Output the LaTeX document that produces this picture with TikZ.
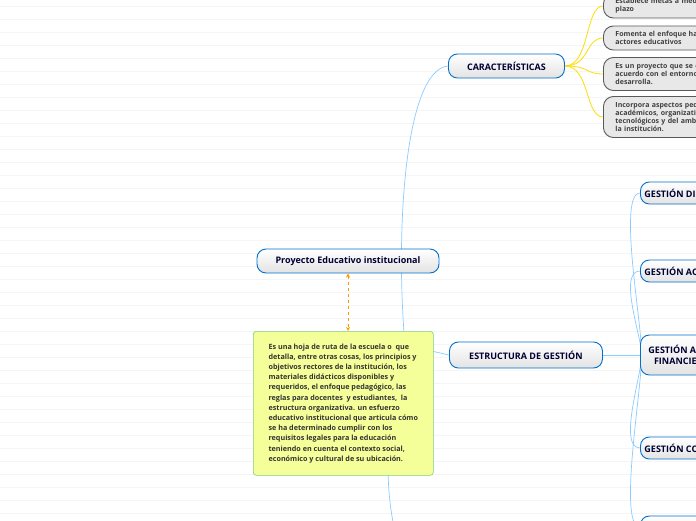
\documentclass[tikz,border=0pt]{standalone}
\usepackage{fontspec}
\setmainfont{Open Sans}
\usetikzlibrary{backgrounds}
\begin{document}
\begin{tikzpicture}[x=1pt,y=-1pt,
  topic/.style={draw=blue!45!cyan!80!black,line width=0.9pt,rounded corners=9pt,top color=white,bottom color=gray!22,font=\bfseries\fontsize{9}{11}\selectfont,text=blue!20!black,inner sep=4pt,anchor=west},
  sub/.style={draw=gray!70!black,line width=0.9pt,rounded corners=10pt,fill=gray!18,font=\bfseries\fontsize{7}{8}\selectfont,text=black!75,align=left,anchor=west,text width=130pt,inner sep=4pt,inner xsep=12pt},
  blink/.style={draw=blue!45!cyan!45,line width=0.7pt},
  ylink/.style={draw=yellow!80!orange,line width=0.8pt}]
\useasboundingbox (0,0) rectangle (696,520);
\clip (0,0) rectangle (696,520);
\coordinate (hub) at (405,345);
\coordinate (hub2) at (640,355);
\coordinate (bot) at (393,522);
% nodes
\node[topic,minimum width=182pt,minimum height=24pt,anchor=center] (pei) at (348,261) {Proyecto Educativo institucional};
\node[topic,minimum width=116pt,minimum height=24pt] (car) at (448,66) {CARACTERÍSTICAS};
\node[topic,minimum width=153pt,minimum height=26pt] (est) at (449,355) {ESTRUCTURA DE GESTIÓN};
\node[topic,minimum width=80pt,minimum height=22pt,align=left] (g1) at (640,193) {GESTIÓN DIRECTIVA};
\node[topic,minimum width=80pt,minimum height=22pt,align=left] (g2) at (640,271) {GESTIÓN ACADÉMICA};
\node[topic,minimum width=80pt,minimum height=40pt,align=center,inner xsep=8pt] (g3) at (640,355) {GESTIÓN ADMI\\FINANCIERA};
\node[topic,minimum width=80pt,minimum height=22pt,align=left] (g4) at (640,448) {GESTIÓN COMUNITARIA};
\node[topic,minimum width=80pt,minimum height=22pt] (g5) at (640,527) {GESTIÓN};
\node[sub,minimum height=24pt] (s1) at (603,6) {Establece metas a mediano y largo\\plazo};
\node[sub,minimum height=24pt] (s2) at (603,38) {Fomenta el enfoque hacia los\\actores educativos};
\node[sub,minimum height=33pt] (s3) at (603,74) {Es un proyecto que se elabora de\\acuerdo con el entorno donde se\\desarrolla.};
\node[sub,minimum height=41pt] (s4) at (603,117) {Incorpora aspectos pedagógicos,\\académicos, organizativos,\\tecnológicos y del ambiente de\\la institución.};
\node[draw=green!60!black!50,fill=lime!45!yellow!40,rounded corners=3pt,line width=0.6pt,minimum width=180pt,minimum height=144pt,align=left,anchor=north west,inner sep=3pt,font=\bfseries\fontsize{7.2}{10.2}\selectfont,text=black!80] (def) at (253,331) {Es una hoja de ruta de la escuela o\ \ que\\detalla, entre otras cosas, los principios y\\objetivos rectores de la institución, los\\materiales didácticos disponibles y\\requeridos, el enfoque pedagógico, las\\reglas para docentes\ \ y estudiantes,\ \ la\\estructura organizativa. un esfuerzo\\educativo institucional que articula cómo\\se ha determinado cumplir con los\\requisitos legales para la educación\\teniendo en cuenta el contexto social,\\económico y cultural de su ubicación.};
\draw[orange!80!yellow,dashed,line width=0.9pt,<->,>=stealth] (pei.south) -- (def.north -| pei.south);
\begin{scope}[on background layer]
\fill[white] (0,0) rectangle (696,520);
\foreach \y in {6,19,...,520} \draw[gray!8] (0,\y) -- (696,\y);
\draw[blink] (hub) .. controls (395,230) and (405,70) .. (car.west);
\draw[blink] (hub) .. controls (385,420) and (385,480) .. (bot);
\draw[blink] (hub) -- (est.west);
\draw[blink] (est.east) -- (hub2);
\foreach \g in {g1,g2,g4,g5} \draw[blink] (hub2) .. controls (648,355) and (615,0|-\g.west) .. (\g.west);
\draw[blink] (hub2) -- (g3.west);
\foreach \s in {s1,s2,s3,s4} \draw[ylink] (car.east) .. controls (590,66) and (585,0|-\s.west) .. (\s.west);
\end{scope}
\end{tikzpicture}
\end{document}
